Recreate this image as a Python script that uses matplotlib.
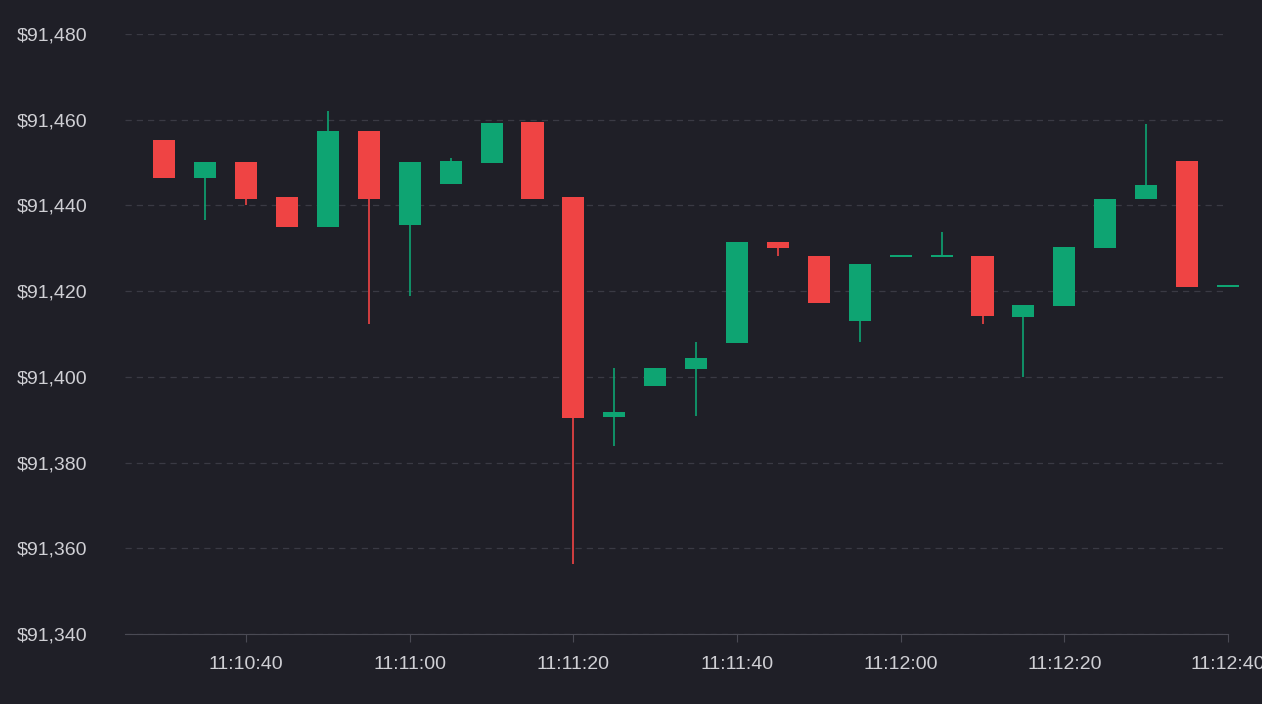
import matplotlib

matplotlib.use("Agg")
import matplotlib.pyplot as plt
from matplotlib.ticker import FuncFormatter

# seconds after 11:10:00
times = [30, 35, 40, 45, 50, 55, 60, 65, 70, 75, 80, 85, 90, 95, 100, 105, 110,
         115, 120, 125, 130, 135, 140, 145, 150, 155, 160]
opens = [91455.3, 91446.4, 91450.1, 91442.0, 91435.0, 91457.4, 91435.4, 91445.0, 91449.9,
         91459.5, 91442.0, 91390.6, 91397.9, 91401.8, 91407.9, 91431.5, 91428.2, 91413.0,
         91428.0, 91428.0, 91428.2, 91414.0, 91416.5, 91430.0, 91441.5, 91450.4, 91421.0]
closes = [91446.4, 91450.1, 91441.5, 91435.0, 91457.4, 91441.5, 91450.1, 91450.4, 91459.2,
          91441.5, 91390.4, 91391.8, 91402.1, 91404.4, 91431.5, 91430.1, 91417.2, 91426.3,
          91428.0, 91428.0, 91414.2, 91416.8, 91430.3, 91441.5, 91444.8, 91421.0, 91421.0]
highs = [91455.3, 91450.1, 91450.1, 91442.0, 91462.0, 91457.4, 91450.1, 91451.0, 91459.2,
         91459.5, 91442.0, 91402.1, 91402.1, 91408.1, 91431.5, 91431.5, 91428.2, 91426.3,
         91428.0, 91433.8, 91428.2, 91416.8, 91430.3, 91441.5, 91459.0, 91450.4, 91421.0]
lows = [91446.4, 91436.6, 91440.1, 91435.0, 91435.0, 91412.3, 91418.9, 91445.0, 91449.9,
        91441.5, 91356.3, 91383.9, 91397.9, 91390.9, 91407.9, 91428.2, 91417.2, 91408.1,
        91428.0, 91428.0, 91412.3, 91400.0, 91416.5, 91430.0, 91441.5, 91421.0, 91421.0]

BG = "#1f1f27"
UP = "#0ea472"
DOWN = "#ef4444"
TEXT = "#cfcfd4"

plt.rcParams["font.family"] = ["Liberation Sans", "DejaVu Sans"]

fig = plt.figure(figsize=(12.62, 7.04), dpi=100, facecolor=BG)
ax = fig.add_axes([125 / 1262, 70 / 704, 1103 / 1262, 600 / 704], facecolor=BG)

for t, o, c, h, l in zip(times, opens, closes, highs, lows):
    color = UP if c >= o else DOWN
    ax.vlines(t, l, h, color=color, lw=1.2, zorder=2, clip_on=False)
    bottom = min(o, c)
    height = max(abs(c - o), 0.35)
    ax.bar(t, height, bottom=bottom, width=2.7, color=color, zorder=3, clip_on=False)

ax.set_xlim(25.2, 160)
ax.set_ylim(91340, 91480)
ax.set_yticks(range(91340, 91481, 20))
ax.set_xticks([40, 60, 80, 100, 120, 140, 160])
ax.xaxis.set_major_formatter(FuncFormatter(lambda v, _: f"11:{10 + int(v) // 60:02d}:{int(v) % 60:02d}"))
ax.yaxis.set_major_formatter(FuncFormatter(lambda v, _: f"${v:,.0f}"))
ax.grid(axis="y", color="#3a3a44", linestyle=(0, (5, 4)), lw=0.9)
ax.set_axisbelow(True)
for side in ("top", "right", "left"):
    ax.spines[side].set_visible(False)
ax.spines["bottom"].set_color("#4a4a54")
ax.tick_params(axis="y", length=0, labelsize=14, labelcolor=TEXT)
ax.tick_params(axis="x", length=6, color="#4a4a54", pad=10, labelsize=14, labelcolor=TEXT)
for lbl in ax.get_yticklabels():
    lbl.set_horizontalalignment("left")
    lbl.set_x(-103 / 1103)

fig.savefig("out.png", dpi=100, facecolor=BG)
